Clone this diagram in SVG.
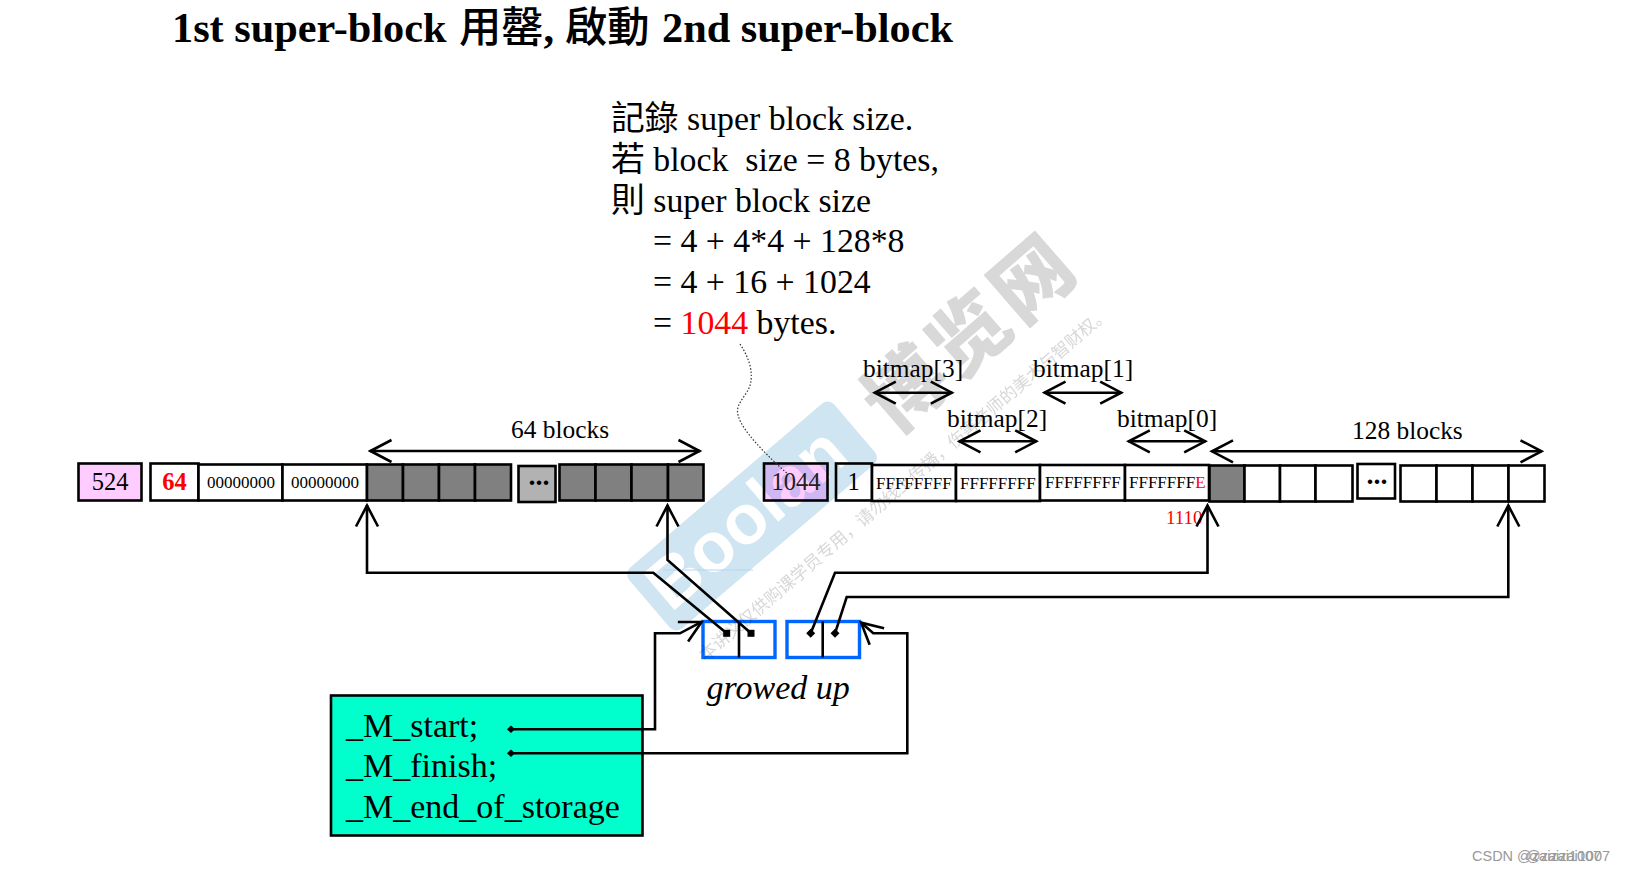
<svg xmlns="http://www.w3.org/2000/svg" width="1626" height="872" viewBox="0 0 1626 872">
<style>
text{font-family:"Liberation Serif","Noto Sans CJK TC",serif;fill:#000}
.cell{stroke:#000;stroke-width:2.6;fill:#fff}
.dark{fill:#808080}
.blk{font-size:25.4px}
.body{font-size:33.8px}
.val{font-size:24.5px;text-anchor:middle}
.hex{font-size:17px}
.red{fill:#f00}
.ln{fill:none;stroke:#000;stroke-width:2.6;stroke-linejoin:miter}
.dbl{fill:none;stroke:#000;stroke-width:2.4;marker-start:url(#open);marker-end:url(#open)}
.up{marker-end:url(#open)}
.blue{fill:#fff;stroke:#0066ff;stroke-width:3.4}
.dot{font-size:28px;font-weight:bold;text-anchor:middle}
.fld{font-size:34px}
.wm{mix-blend-mode:multiply}
.wmt{font-family:"Noto Sans CJK SC",sans-serif;fill:#d8d8d8}
.csdn{font-family:"Liberation Sans",sans-serif;font-size:14.5px;fill:#999}
</style>
<defs>
<marker id="open" markerUnits="userSpaceOnUse" viewBox="0 0 26 26" refX="23.5" refY="13" markerWidth="26" markerHeight="26" orient="auto-start-reverse">
<path d="M2,2 L23,13 L2,24" fill="none" stroke="#000" stroke-width="2.6"/>
</marker>
</defs>
<rect width="1626" height="872" fill="#fff"/>

<g id="title"><text y="42" font-size="42.3" font-weight="bold"><tspan x="172">1st super-block</tspan><tspan x="459" font-weight="500">用罄</tspan><tspan>,</tspan><tspan x="565" font-weight="500">啟動</tspan><tspan x="662">2nd super-block</tspan></text></g>

<g id="note">
<text class="body" x="611" y="130">記錄 super block size.</text>
<text class="body" x="611" y="171" xml:space="preserve">若 block  size = 8 bytes,</text>
<text class="body" x="611" y="212">則 super block size</text>
<text class="body" x="653" y="252">= 4 + 4*4 + 128*8</text>
<text class="body" x="653" y="293">= 4 + 16 + 1024</text>
<text class="body" x="653" y="334">= <tspan class="red">1044</tspan> bytes.</text>
</g>

<g id="block-524"><rect class="cell" x="78.5" y="463.5" width="63" height="37" style="fill:#ffccff"/><text class="val" x="110" y="490">524</text></g>
<g id="block-64"><rect class="cell" x="150.5" y="463.5" width="48" height="37"/><text class="val red" x="174.5" y="490" font-weight="bold">64</text></g>
<g id="bitmap-a"><rect class="cell" x="198.5" y="464.5" width="84" height="36"/><text class="hex" x="207" y="488">00000000</text></g>
<g id="bitmap-b"><rect class="cell" x="282.5" y="464.5" width="84.5" height="36"/><text class="hex" x="291" y="488">00000000</text></g>
<g id="blocks-64a">
<rect class="cell dark" x="367" y="464.5" width="36" height="36"/><rect class="cell dark" x="403" y="464.5" width="36" height="36"/><rect class="cell dark" x="439" y="464.5" width="36" height="36"/><rect class="cell dark" x="475" y="464.5" width="36" height="36"/>
</g>
<g id="dots-a"><rect class="cell" x="518.5" y="466" width="37" height="36" style="fill:#b2b2b2"/><text class="dot" x="539" y="485">...</text></g>
<g id="blocks-64b">
<rect class="cell dark" x="559.5" y="464.5" width="36" height="36"/><rect class="cell dark" x="595.5" y="464.5" width="36" height="36"/><rect class="cell dark" x="631.5" y="464.5" width="36.5" height="36"/><rect class="cell dark" x="668" y="464.5" width="35.5" height="36"/>
</g>
<g id="label-64"><text class="blk" x="511" y="438">64 blocks</text></g>

<g id="block-1044"><rect class="cell" x="764" y="463.5" width="63.5" height="37" style="fill:#ffccff"/><text class="val" x="796" y="490" style="fill:#222">1044</text></g>
<g id="block-1"><rect class="cell" x="836" y="463.5" width="36" height="37"/><text class="val" x="853.5" y="490">1</text></g>
<g id="bitmap-3"><rect class="cell" x="872" y="465" width="84" height="36"/><text class="hex" x="876" y="489">FFFFFFFF</text></g>
<g id="bitmap-2"><rect class="cell" x="956" y="465" width="84" height="36"/><text class="hex" x="960" y="489">FFFFFFFF</text></g>
<g id="bitmap-1"><rect class="cell" x="1040" y="465" width="85" height="35.5"/><text class="hex" x="1045" y="488">FFFFFFFF</text></g>
<g id="bitmap-0"><rect class="cell" x="1125" y="465" width="84" height="35.5"/><text class="hex" x="1129" y="488">FFFFFFF<tspan class="red">E</tspan></text></g>
<g id="blocks-128a">
<rect class="cell dark" x="1209.5" y="465.5" width="35" height="36"/><rect class="cell" x="1244.5" y="465.5" width="35.5" height="36"/><rect class="cell" x="1280" y="465.5" width="35.5" height="36"/><rect class="cell" x="1315.5" y="465.5" width="37" height="36"/>
</g>
<g id="dots-b"><rect class="cell" x="1357.5" y="464" width="37.5" height="34.5"/><text class="dot" x="1377" y="484">...</text></g>
<g id="blocks-128b">
<rect class="cell" x="1400.5" y="465.5" width="36" height="36"/><rect class="cell" x="1436.5" y="465.5" width="36" height="36"/><rect class="cell" x="1472.5" y="465.5" width="36" height="36"/><rect class="cell" x="1508.5" y="465.5" width="36" height="36"/>
</g>
<g id="label-128"><text class="blk" x="1352" y="439">128 blocks</text></g>
<g id="label-b3"><text class="blk" x="863" y="377">bitmap[3]</text></g>
<g id="label-b1"><text class="blk" x="1033" y="377">bitmap[1]</text></g>
<g id="label-b2"><text class="blk" x="947" y="427">bitmap[2]</text></g>
<g id="label-b0"><text class="blk" x="1117" y="427">bitmap[0]</text></g>
<g id="label-1110"><text class="red" x="1166" y="524" font-size="19">1110</text></g>

<g id="vector-a"><rect class="blue" x="703" y="621.5" width="72" height="36"/><line x1="739" y1="621.5" x2="739" y2="657.5" stroke="#000" stroke-width="2.6"/></g>
<g id="vector-b"><rect class="blue" x="787" y="621.5" width="72.5" height="36"/><line x1="822.7" y1="621.5" x2="822.7" y2="657.5" stroke="#000" stroke-width="2.6"/></g>
<g id="label-growed"><text x="706.5" y="699" font-size="34" font-style="italic">growed up</text></g>

<g id="struct"><rect x="331" y="695.5" width="311.5" height="140" fill="#00ffcc" stroke="#000" stroke-width="2.6"/>
<text class="fld" x="346" y="737">_M_start;</text>
<text class="fld" x="346" y="777">_M_finish;</text>
<text class="fld" x="346" y="818">_M_end_of_storage</text></g>

<g id="connectors">
<path class="dbl" d="M370,451 H700"/>
<path class="dbl" d="M1211.5,451.3 H1542"/>
<path class="dbl" d="M874.3,392.7 H952.3"/>
<path class="dbl" d="M1044,392.7 H1121.7"/>
<path class="dbl" d="M959,441.3 H1036.7"/>
<path class="dbl" d="M1128.3,441.3 H1205.7"/>
<path class="ln up" d="M726.7,633.3 L653.3,572.7 H367 V505"/>
<path class="ln up" d="M751,633.3 L667.5,560 V505"/>
<path class="ln up" d="M810.7,633.3 L835,572.7 H1207.5 V505"/>
<path class="ln up" d="M835,633.3 L846.7,597 H1508.3 V505"/>
<path class="ln up" d="M511,729.3 H655 V633.3 H680 L702,621.7"/>
<path class="ln up" d="M511,753.3 H907.3 V633.3 H873.3 L860.7,622.3"/>
<path d="M740,344 C752,362 752,375 750.7,383 C748,396 734,403 738.3,416 C742,430 764,453 786.7,473" fill="none" stroke="#333" stroke-width="1.2" stroke-dasharray="1.5 1.8"/>
<rect x="723.2" y="629.8" width="7" height="7"/>
<rect x="747.5" y="629.8" width="7" height="7"/>
<path d="M810.7,628.8 L815.2,633.3 L810.7,637.8 L806.2,633.3Z"/>
<path d="M835,628.8 L839.5,633.3 L835,637.8 L830.5,633.3Z"/>
<path d="M511,725.5 L515,729.3 L511,733.1 L507,729.3Z"/>
<path d="M511,749.5 L515,753.3 L511,757.1 L507,753.3Z"/>
</g>

<g id="watermark">
<g class="wm">
<rect x="617" y="476" width="270" height="80" rx="9" transform="rotate(-40.5 752 516)" fill="#cfe5f2"/>
<text transform="translate(745 517) rotate(-40.5)" y="25" text-anchor="middle" font-size="70" font-weight="bold" style="font-family:'Liberation Sans',sans-serif;fill:#fff">Boolan</text>
<line x1="663" y1="570" x2="753" y2="570" stroke="#b5d6ec" stroke-width="1"/>
<text class="wmt" transform="translate(971 333) rotate(-41)" y="28" text-anchor="middle" font-size="79" font-weight="900" letter-spacing="5">博览网</text>
<text class="wmt" transform="translate(904 484) rotate(-40.5)" y="6" text-anchor="middle" font-size="17.2">本讲义仅供购课学员专用，请勿线上传播，伤害老师的美术与智财权。</text>
</g>
</g>

<g id="credit">
<text class="csdn" x="1472" y="861">CSDN @zaizai1007</text>
<text class="csdn" x="1526" y="861">@zaizai1007</text>
</g>
</svg>
